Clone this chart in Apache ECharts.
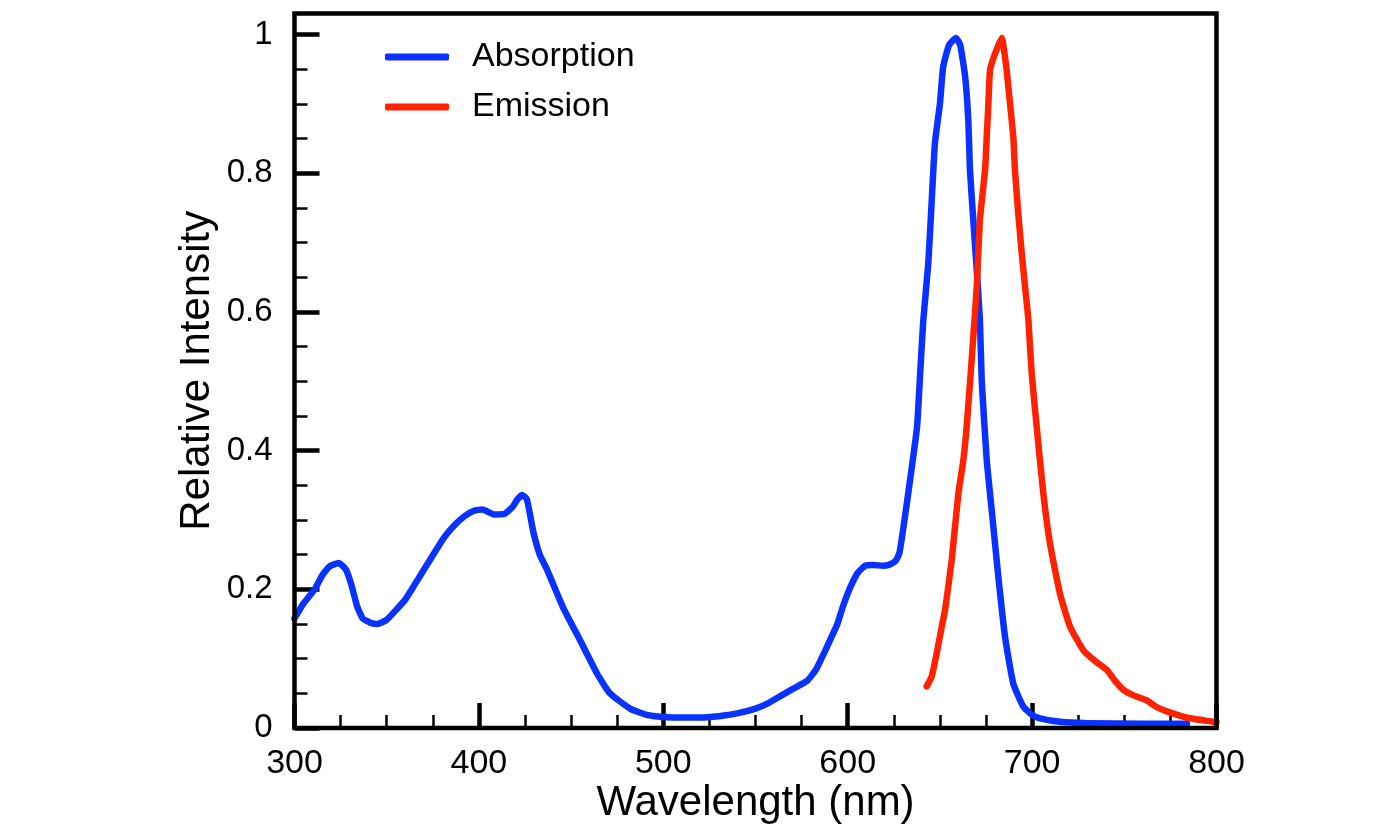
<!DOCTYPE html>
<html>
<head>
<meta charset="utf-8">
<script src="https://cdn.jsdelivr.net/npm/echarts@6/dist/echarts.min.js"></script>
<style>
  html, body { margin: 0; padding: 0; background: #fff; }
  #chart { width: 1400px; height: 840px; }
</style>
</head>
<body>
<div id="chart"></div>
<script>
// absorption spectrum (wavelength nm, relative intensity)
var absWl = [300, 305, 311, 315, 319, 324, 328, 331, 334, 337, 341, 345, 350, 355, 360, 365, 372, 381, 387, 392, 397, 402, 408, 414, 418, 421, 423.5, 426, 429.5, 433, 437, 445.6, 454.8, 464, 471, 482, 491, 500, 510, 520, 530, 540, 550, 557, 563.5, 570, 578, 583, 587, 591, 594.4, 597, 600, 603, 605.5, 609.5, 614, 619, 623, 626, 628, 630, 634, 637.6, 639.3, 641, 643.7, 645.5, 647.3, 650, 651.8, 655, 658.7, 661, 663.7, 665.4, 666.3, 668.1, 670, 671.7, 672.7, 675.4, 678.1, 681.7, 685.3, 689.8, 695.2, 700, 704.3, 715, 730, 760, 784];
var absVal = [0.158, 0.18, 0.20, 0.22, 0.233, 0.238, 0.228, 0.205, 0.175, 0.158, 0.152, 0.150, 0.156, 0.170, 0.185, 0.206, 0.236, 0.274, 0.293, 0.305, 0.313, 0.315, 0.308, 0.309, 0.318, 0.330, 0.336, 0.330, 0.283, 0.25, 0.228, 0.174, 0.127, 0.079, 0.050, 0.028, 0.019, 0.016, 0.015, 0.015, 0.017, 0.021, 0.028, 0.036, 0.046, 0.056, 0.068, 0.085, 0.107, 0.13, 0.15, 0.172, 0.194, 0.212, 0.224, 0.234, 0.235, 0.234, 0.236, 0.241, 0.252, 0.285, 0.361, 0.434, 0.511, 0.588, 0.67, 0.757, 0.843, 0.90, 0.954, 0.985, 0.995, 0.985, 0.939, 0.877, 0.805, 0.733, 0.66, 0.588, 0.500, 0.386, 0.314, 0.218, 0.132, 0.064, 0.031, 0.019, 0.014, 0.009, 0.007, 0.006, 0.006];

// emission spectrum
var emWl = [642.8, 645.5, 648.3, 651, 652.8, 656.4, 660, 662.7, 664.5, 666.7, 668.1, 670, 671.7, 674.5, 675.4, 676.3, 677.2, 680, 683.5, 686.2, 687.1, 689.8, 690.7, 692.5, 694.4, 696.2, 698, 699.8, 702.5, 706.1, 709.7, 715.1, 720.6, 727.8, 734, 740.5, 745, 749.5, 755, 762.1, 767, 773, 785.5, 798.3, 800];
var emVal = [0.060, 0.074, 0.108, 0.146, 0.170, 0.242, 0.338, 0.386, 0.434, 0.511, 0.564, 0.636, 0.733, 0.805, 0.853, 0.90, 0.949, 0.973, 0.995, 0.949, 0.925, 0.853, 0.805, 0.742, 0.684, 0.636, 0.588, 0.511, 0.434, 0.338, 0.266, 0.194, 0.146, 0.112, 0.097, 0.084, 0.068, 0.055, 0.047, 0.040, 0.031, 0.024, 0.014, 0.009, 0.008];

var xTicks = [300, 400, 500, 600, 700, 800];
var yTicks = [0, 0.2, 0.4, 0.6, 0.8, 1];

function pairs(xs, ys) {
  return xs.map(function (x, i) { return [x, ys[i]]; });
}

var font = 'Liberation Sans, Arial, Helvetica, sans-serif';
var blue = '#0a32ff';
var red = '#ff2200';

var chart = echarts.init(document.getElementById('chart'), null, { renderer: 'canvas' });

chart.setOption({
  backgroundColor: '#fff',
  animation: false,
  textStyle: { fontFamily: font },
  legend: {
    orient: 'vertical',
    left: 380,
    top: 35,
    itemWidth: 64,
    itemHeight: 7,
    itemGap: 16,
    icon: 'roundRect',
    textStyle: { fontSize: 34, color: '#000', fontFamily: font, lineHeight: 34, padding: [0, 0, 0, 18] },
    data: ['Absorption', 'Emission']
  },
  grid: [
    { left: 294.5, right: 183.5, top: 34.5, bottom: 112 },
    { left: 294.5, right: 183.5, top: 13.5, bottom: 112, show: true, borderWidth: 4.5, borderColor: '#000', backgroundColor: 'transparent', z: 5 }
  ],
  xAxis: [
    {
      type: 'value', gridIndex: 0,
      min: xTicks[0], max: xTicks[xTicks.length - 1], interval: 100,
      axisLine: { show: false },
      axisTick: { show: true, inside: true, length: 25, lineStyle: { color: '#000', width: 4.5 } },
      minorTick: { show: true, splitNumber: 4, length: 13, lineStyle: { color: '#000', width: 2.5 } },
      splitLine: { show: false },
      axisLabel: { fontSize: 34, color: '#000', margin: 19, fontFamily: font }
    },
    {
      type: 'value', gridIndex: 1, min: 0, max: 1,
      name: 'Wavelength (nm)', nameLocation: 'middle', nameGap: 54,
      nameTextStyle: { fontSize: 42, color: '#000', fontFamily: font },
      axisLine: { show: false }, axisTick: { show: false }, axisLabel: { show: false }, splitLine: { show: false }
    }
  ],
  yAxis: [
    {
      type: 'value', gridIndex: 0,
      min: yTicks[0], max: yTicks[yTicks.length - 1], interval: 0.2,
      axisLine: { show: false },
      axisTick: { show: true, inside: true, length: 25, lineStyle: { color: '#000', width: 4.5 } },
      minorTick: { show: true, splitNumber: 4, length: 13, lineStyle: { color: '#000', width: 2.5 } },
      splitLine: { show: false },
      axisLabel: { fontSize: 33, color: '#000', margin: 22, fontFamily: font }
    },
    {
      type: 'value', gridIndex: 1, min: 0, max: 1,
      name: 'Relative Intensity', nameLocation: 'middle', nameGap: 76,
      nameTextStyle: { fontSize: 42, color: '#000', fontFamily: font },
      axisLine: { show: false }, axisTick: { show: false }, axisLabel: { show: false }, splitLine: { show: false }
    }
  ],
  series: [
    {
      name: 'Absorption', type: 'line', xAxisIndex: 0, yAxisIndex: 0,
      showSymbol: false, symbol: 'none',
      smooth: 0.15,
      color: blue,
      lineStyle: { color: blue, width: 6.5, cap: 'round', join: 'round' },
      data: pairs(absWl, absVal)
    },
    {
      name: 'Emission', type: 'line', xAxisIndex: 0, yAxisIndex: 0,
      showSymbol: false, symbol: 'none',
      smooth: 0.15,
      color: red,
      lineStyle: { color: red, width: 6.5, cap: 'round', join: 'round' },
      data: pairs(emWl, emVal)
    }
  ]
});
</script>
</body>
</html>
